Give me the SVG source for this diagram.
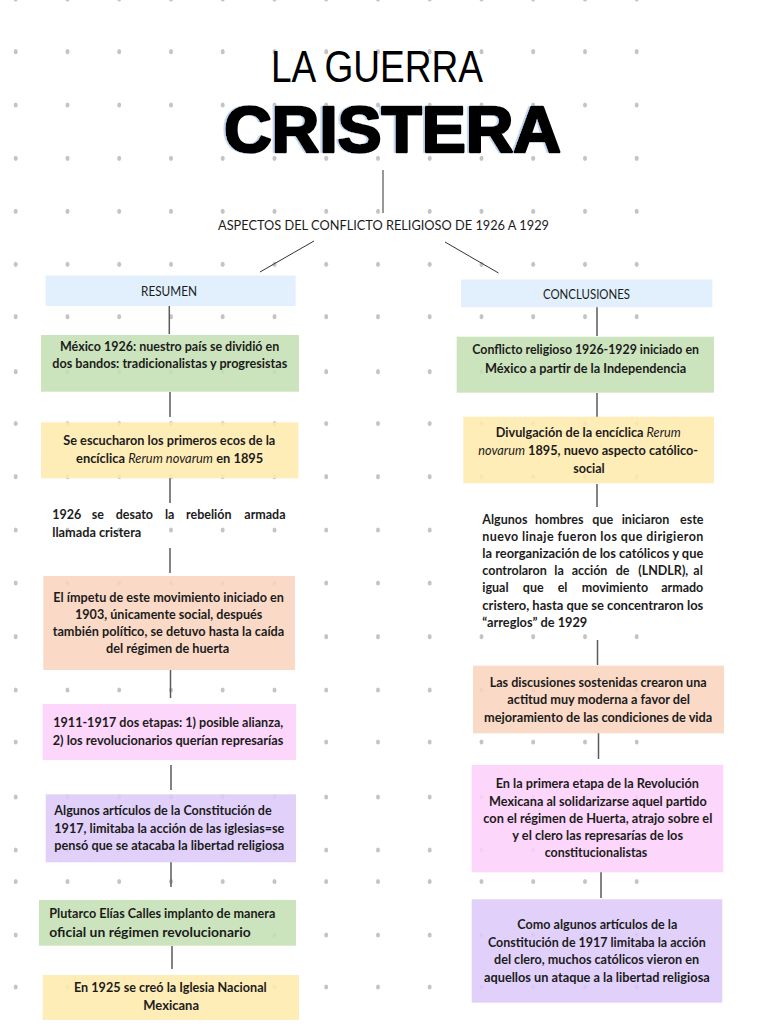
<svg xmlns="http://www.w3.org/2000/svg" xmlns:xlink="http://www.w3.org/1999/xlink" width="768" height="1024" viewBox="0 0 768 1024">
<defs>
<style>
.dot{fill:#c4c4c4}
.t{font-family:Lato,"Liberation Sans",sans-serif;font-size:12.5px;font-weight:700;fill:#1c1c1c}
.i{font-style:italic;font-weight:400}
.h{font-family:Lato,"Liberation Sans",sans-serif;font-size:13.5px;font-weight:400;fill:#1c1c1c}
.ttl{font-family:"Liberation Sans",Arial,sans-serif;fill:#000}
.c{stroke:#5a5a5a;stroke-width:1.5;fill:none}
.c1{stroke:#333;stroke-width:1;fill:none}
.box{fill-opacity:0.88}
.blue{fill:#ddeefc}
.green{fill:#c5e0b4}
.yellow{fill:#ffeaae}
.peach{fill:#f9d4be}
.pink{fill:#fdd0fb}
.lav{fill:#ddcbf9}
</style>
<filter id="fringe" x="-5%" y="-10%" width="110%" height="120%">
<feOffset in="SourceAlpha" dx="-2.5" dy="0" result="o"/>
<feFlood flood-color="#c6d9f2" result="f"/>
<feComposite in="f" in2="o" operator="in" result="s"/>
<feMerge><feMergeNode in="s"/><feMergeNode in="SourceGraphic"/></feMerge>
</filter>
<g id="row">
<ellipse class="dot" cx="15.7" cy="0" rx="2" ry="2.6"/>
<ellipse class="dot" cx="67.5" cy="0" rx="2" ry="2.6"/>
<ellipse class="dot" cx="119.2" cy="0" rx="2" ry="2.6"/>
<ellipse class="dot" cx="171" cy="0" rx="2" ry="2.6"/>
<ellipse class="dot" cx="222.7" cy="0" rx="2" ry="2.6"/>
<ellipse class="dot" cx="274.5" cy="0" rx="2" ry="2.6"/>
<ellipse class="dot" cx="326.2" cy="0" rx="2" ry="2.6"/>
<ellipse class="dot" cx="378" cy="0" rx="2" ry="2.6"/>
<ellipse class="dot" cx="429.7" cy="0" rx="2" ry="2.6"/>
<ellipse class="dot" cx="481.5" cy="0" rx="2" ry="2.6"/>
<ellipse class="dot" cx="533.2" cy="0" rx="2" ry="2.6"/>
<ellipse class="dot" cx="585" cy="0" rx="2" ry="2.6"/>
<ellipse class="dot" cx="636.7" cy="0" rx="2" ry="2.6"/>
</g>
</defs>
<rect x="0" y="0" width="768" height="1024" fill="#ffffff"/>
<g id="dots">
<use xlink:href="#row" y="-1"/>
<use xlink:href="#row" y="51.7"/>
<use xlink:href="#row" y="105"/>
<use xlink:href="#row" y="158.3"/>
<use xlink:href="#row" y="211.3"/>
<use xlink:href="#row" y="264.3"/>
<use xlink:href="#row" y="316.7"/>
<use xlink:href="#row" y="371.7"/>
<use xlink:href="#row" y="423.5"/>
<use xlink:href="#row" y="476.7"/>
<use xlink:href="#row" y="530"/>
<use xlink:href="#row" y="583"/>
<use xlink:href="#row" y="636.7"/>
<use xlink:href="#row" y="690"/>
<use xlink:href="#row" y="742"/>
<use xlink:href="#row" y="797"/>
<use xlink:href="#row" y="850"/>
<use xlink:href="#row" y="881.5"/>
<use xlink:href="#row" y="935"/>
<use xlink:href="#row" y="987"/>
</g>

<g id="title">
<text class="ttl" x="271" y="81.7" textLength="212" lengthAdjust="spacingAndGlyphs" font-size="45">LA GUERRA</text>
<text class="ttl" x="224" y="152" textLength="337" lengthAdjust="spacingAndGlyphs" font-size="65" font-weight="700" stroke="#000" stroke-width="2.6" stroke-linejoin="round" filter="url(#fringe)">CRISTERA</text>
</g>

<g id="connectors">
<path class="c1" d="M383 170 V213"/>
<path class="c1" d="M314 241 L260 272"/>
<path class="c1" d="M445 242 L498.5 273"/>
<path class="c" d="M169.3 306 V334"/>
<path class="c" d="M170 392 V417"/>
<path class="c" d="M170 478 V503"/>
<path class="c" d="M170 548 V573"/>
<path class="c" d="M170.5 670 V698"/>
<path class="c" d="M171 765 V790"/>
<path class="c" d="M171 862 V887"/>
<path class="c" d="M172 946 V969"/>
<path class="c" d="M597 307 V336"/>
<path class="c" d="M597 393 V417"/>
<path class="c" d="M597 484 V510"/>
<path class="c" d="M597.5 640 V665"/>
<path class="c" d="M598.5 733 V759"/>
<path class="c" d="M601 872 V898"/>
</g>

<g id="aspectos">
<text class="h" x="218" y="229.8" textLength="331" lengthAdjust="spacingAndGlyphs">ASPECTOS DEL CONFLICTO RELIGIOSO DE 1926 A 1929</text>
</g>

<g id="resumen">
<rect class="blue box" x="45.6" y="275.5" width="250" height="30.5"/>
<text class="h" x="141" y="296" textLength="56" lengthAdjust="spacingAndGlyphs">RESUMEN</text>
</g>

<g id="conclusiones">
<rect class="blue box" x="461" y="279.5" width="251.3" height="27.8"/>
<text class="h" x="543" y="299" textLength="87" lengthAdjust="spacingAndGlyphs">CONCLUSIONES</text>
</g>

<g id="l1">
<rect class="green box" x="41" y="335" width="258" height="56.7"/>
<text class="t" x="60" y="350.5" textLength="219.3" lengthAdjust="spacingAndGlyphs">México 1926: nuestro país se dividió en</text>
<text class="t" x="52.3" y="368.3" textLength="235" lengthAdjust="spacingAndGlyphs">dos bandos: tradicionalistas y progresistas</text>
</g>

<g id="l2">
<rect class="yellow box" x="41" y="422.3" width="257.3" height="56"/>
<text class="t" x="63.3" y="445.3" textLength="212" lengthAdjust="spacingAndGlyphs">Se escucharon los primeros ecos de la</text>
<text class="t" x="76" y="462.7" textLength="187.3" lengthAdjust="spacingAndGlyphs">encíclica <tspan class="i">Rerum novarum</tspan> en 1895</text>
</g>

<g id="l3">
<text class="t" y="519.3"><tspan x="52.3">1926</tspan><tspan x="91.7">se</tspan><tspan x="115.7">desato</tspan><tspan x="165">la</tspan><tspan x="186">rebelión</tspan><tspan x="244.3">armada</tspan></text>
<text class="t" x="52.3" y="536.7" textLength="89" lengthAdjust="spacingAndGlyphs">llamada cristera</text>
</g>

<g id="l4">
<rect class="peach box" x="43.3" y="576" width="251.7" height="94"/>
<text class="t" x="53.3" y="601.7" textLength="230.7" lengthAdjust="spacingAndGlyphs">El ímpetu de este movimiento iniciado en</text>
<text class="t" x="75" y="619" textLength="187.3" lengthAdjust="spacingAndGlyphs">1903, únicamente social, después</text>
<text class="t" x="52.7" y="635.7" textLength="231.6" lengthAdjust="spacingAndGlyphs">también político, se detuvo hasta la caída</text>
<text class="t" x="106" y="652.7" textLength="123.3" lengthAdjust="spacingAndGlyphs">del régimen de huerta</text>
</g>

<g id="l5">
<rect class="pink box" x="42.7" y="704" width="253.3" height="56"/>
<text class="t" x="53.3" y="726.7" textLength="230" lengthAdjust="spacingAndGlyphs">1911-1917 dos etapas: 1) posible alianza,</text>
<text class="t" x="52.7" y="745" textLength="230.6" lengthAdjust="spacingAndGlyphs">2) los revolucionarios querían represarías</text>
</g>

<g id="l6">
<rect class="lav box" x="45.7" y="794.3" width="250.3" height="68"/>
<text class="t" x="54.3" y="815" textLength="217.4" lengthAdjust="spacingAndGlyphs">Algunos artículos de la Constitución de</text>
<text class="t" x="54.3" y="832.7" textLength="230" lengthAdjust="spacingAndGlyphs">1917, limitaba la acción de las iglesias=se</text>
<text class="t" x="54.3" y="850" textLength="230" lengthAdjust="spacingAndGlyphs">pensó que se atacaba la libertad religiosa</text>
</g>

<g id="l7">
<rect class="green box" x="39" y="900" width="257" height="45.7"/>
<text class="t" x="49.3" y="918.3" textLength="226" lengthAdjust="spacingAndGlyphs">Plutarco Elías Calles implanto de manera</text>
<text class="t" x="49.3" y="936.7" textLength="201.4" lengthAdjust="spacingAndGlyphs">oficial un régimen revolucionario</text>
</g>

<g id="l8">
<rect class="yellow box" x="42.7" y="975" width="256.3" height="45"/>
<text class="t" x="74" y="991.7" textLength="192.7" lengthAdjust="spacingAndGlyphs">En 1925 se creó la Iglesia Nacional</text>
<text class="t" x="143.3" y="1010" textLength="55.7" lengthAdjust="spacingAndGlyphs">Mexicana</text>
</g>

<g id="r1">
<rect class="green box" x="456.7" y="336.7" width="257.3" height="56"/>
<text class="t" x="472.3" y="354.3" textLength="226.7" lengthAdjust="spacingAndGlyphs">Conflicto religioso 1926-1929 iniciado en</text>
<text class="t" x="485" y="372.7" textLength="201.3" lengthAdjust="spacingAndGlyphs">México a partir de la Independencia</text>
</g>

<g id="r2">
<rect class="yellow box" x="463.3" y="416.7" width="250.7" height="66.6"/>
<text class="t" x="495.7" y="437.3" textLength="185" lengthAdjust="spacingAndGlyphs">Divulgación de la encíclica <tspan class="i">Rerum</tspan></text>
<text class="t" x="478.3" y="455" textLength="219.7" lengthAdjust="spacingAndGlyphs"><tspan class="i">novarum</tspan> 1895, nuevo aspecto católico-</text>
<text class="t" x="573.3" y="472.7" textLength="31.4" lengthAdjust="spacingAndGlyphs">social</text>
</g>

<g id="r3">
<rect x="472" y="507" width="242" height="126" fill="#ffffff"/>
<text class="t" y="523.5"><tspan x="482.3">Algunos</tspan><tspan x="535">hombres</tspan><tspan x="592.3">que</tspan><tspan x="621.7">iniciaron</tspan><tspan x="680">este</tspan></text>
<text class="t" x="482.3" y="540.7" textLength="221" lengthAdjust="spacing">nuevo linaje fueron los que dirigieron</text>
<text class="t" x="482.3" y="557.9" textLength="221" lengthAdjust="spacingAndGlyphs">la reorganización de los católicos y que</text>
<text class="t" y="575.1"><tspan x="482.3">controlaron</tspan><tspan x="554.3">la</tspan><tspan x="571.7">acción</tspan><tspan x="615.7">de</tspan><tspan x="638.3">(LNDLR),</tspan><tspan x="693.3">al</tspan></text>
<text class="t" y="592.3"><tspan x="482.3">igual</tspan><tspan x="522.8">que</tspan><tspan x="557.7">el</tspan><tspan x="581.8">movimiento</tspan></text>
<text class="t" x="703.3" y="592.3" text-anchor="end">armado</text>
<text class="t" x="482.3" y="609.5" textLength="221" lengthAdjust="spacingAndGlyphs">cristero, hasta que se concentraron los</text>
<text class="t" x="482.3" y="626.7" textLength="105" lengthAdjust="spacingAndGlyphs">“arreglos” de 1929</text>
</g>

<g id="r4">
<rect class="peach box" x="473" y="665.7" width="251" height="67.6"/>
<text class="t" x="489.7" y="686.7" textLength="217" lengthAdjust="spacingAndGlyphs">Las discusiones sostenidas crearon una</text>
<text class="t" x="507.3" y="704" textLength="182.7" lengthAdjust="spacingAndGlyphs">actitud muy moderna a favor del</text>
<text class="t" x="484" y="721.7" textLength="228.3" lengthAdjust="spacingAndGlyphs">mejoramiento de las condiciones de vida</text>
</g>

<g id="r5">
<rect class="pink box" x="471.7" y="765" width="251.6" height="107.3"/>
<text class="t" x="495.7" y="788.3" textLength="203.3" lengthAdjust="spacingAndGlyphs">En la primera etapa de la Revolución</text>
<text class="t" x="489" y="805.7" textLength="217.7" lengthAdjust="spacingAndGlyphs">Mexicana al solidarizarse aquel partido</text>
<text class="t" x="483.3" y="822.7" textLength="229" lengthAdjust="spacingAndGlyphs">con el régimen de Huerta, atrajo sobre el</text>
<text class="t" x="512.3" y="840" textLength="170.7" lengthAdjust="spacingAndGlyphs">y el clero las represarías de los</text>
<text class="t" x="544.7" y="857.3" textLength="102.6" lengthAdjust="spacingAndGlyphs">constitucionalistas</text>
</g>

<g id="r6">
<rect class="lav box" x="471.7" y="899.3" width="250.6" height="103.4"/>
<text class="t" x="517.3" y="929.3" textLength="160" lengthAdjust="spacingAndGlyphs">Como algunos artículos de la</text>
<text class="t" x="488" y="946.7" textLength="217.7" lengthAdjust="spacingAndGlyphs">Constitución de 1917 limitaba la acción</text>
<text class="t" x="494" y="964" textLength="205" lengthAdjust="spacingAndGlyphs">del clero, muchos católicos vieron en</text>
<text class="t" x="484" y="981.7" textLength="225.7" lengthAdjust="spacingAndGlyphs">aquellos un ataque a la libertad religiosa</text>
</g>
</svg>
